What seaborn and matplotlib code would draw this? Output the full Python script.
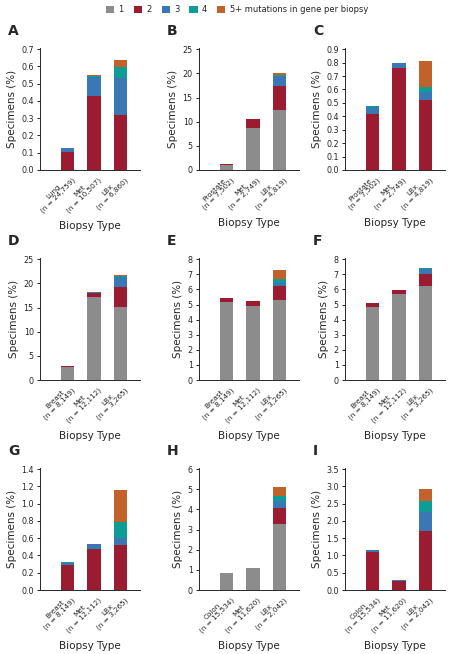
import matplotlib
matplotlib.use("Agg")
import matplotlib.pyplot as plt
import seaborn as sns
import numpy as np
import pandas as pd
from matplotlib.patches import Patch

sns.set_style("ticks")
plt.rcParams['font.family'] = ['DejaVu Sans']

series_names = ["1", "2", "3", "4", "5+ mutations in gene per biopsy"]
colors = ["#8c8c8c", "#9b1b30", "#3a78b5", "#0e9c94", "#c0622a"]

panel_letters = ["A", "B", "C", "D", "E", "F", "G", "H", "I"]
cats_A = ["Lung\n(n = 24,759)", "Met\n(n = 10,507)", "LBx\n(n = 6,860)"]
cats_BC = ["Prostate\n(n = 7,502)", "Met\n(n = 2,749)", "LBx\n(n = 4,819)"]
cats_DEFG = ["Breast\n(n = 8,149)", "Met\n(n = 12,112)", "LBx\n(n = 3,265)"]
cats_HI = ["Colon\n(n = 15,534)", "Met\n(n = 11,620)", "LBx\n(n = 2,042)"]

# values per panel: rows = categories, cols = segments 1..5+
vals_A = [[0, 0.105, 0.02, 0.005, 0], [0, 0.43, 0.11, 0.005, 0.005], [0, 0.32, 0.215, 0.06, 0.045]]
vals_B = [[1.0, 0.15, 0, 0, 0], [8.6, 1.9, 0.1, 0, 0], [12.4, 5.0, 2.1, 0.2, 0.3]]
vals_C = [[0, 0.42, 0.05, 0.01, 0], [0, 0.76, 0.04, 0, 0], [0, 0.52, 0.06, 0.04, 0.19]]
vals_D = [[2.6, 0.3, 0, 0, 0], [17.1, 1.0, 0.1, 0, 0], [15.2, 4.1, 2.1, 0.2, 0.2]]
vals_E = [[5.15, 0.25, 0, 0, 0], [4.9, 0.3, 0.05, 0, 0], [5.3, 0.9, 0.25, 0.25, 0.6]]
vals_F = [[4.85, 0.25, 0, 0, 0], [5.7, 0.28, 0, 0, 0], [6.25, 0.8, 0.3, 0.05, 0.05]]
vals_G = [[0, 0.29, 0.02, 0.01, 0], [0, 0.47, 0.06, 0, 0], [0, 0.52, 0.08, 0.19, 0.37]]
vals_H = [[0.85, 0, 0, 0, 0], [1.08, 0.02, 0, 0, 0], [3.3, 0.75, 0.35, 0.25, 0.45]]
vals_I = [[0, 1.1, 0.06, 0, 0], [0, 0.27, 0.02, 0, 0], [0, 1.7, 0.55, 0.33, 0.35]]

panels = [
    (cats_A, vals_A, 0.7, 0.1, "{:.1f}"),
    (cats_BC, vals_B, 25, 5, "{:.0f}"),
    (cats_BC, vals_C, 0.9, 0.1, "{:.1f}"),
    (cats_DEFG, vals_D, 25, 5, "{:.0f}"),
    (cats_DEFG, vals_E, 8, 1, "{:.0f}"),
    (cats_DEFG, vals_F, 8, 1, "{:.0f}"),
    (cats_DEFG, vals_G, 1.4, 0.2, "{:.1f}"),
    (cats_HI, vals_H, 6, 1, "{:.0f}"),
    (cats_HI, vals_I, 3.5, 0.5, "{:.1f}"),
]

W, H = 474, 654
fig = plt.figure(figsize=(W / 100, H / 100), dpi=100)
col_x = [40, 199, 345]
row_y = [48, 258, 468]
aw, ah = 100, 122

for idx, (cats, vals, ymax, step, fmt) in enumerate(panels):
    r, c = divmod(idx, 3)
    x0, y0 = col_x[c], row_y[r]
    ax = fig.add_axes([x0 / W, 1 - (y0 + ah) / H, aw / W, ah / H])
    arr = np.array(vals)
    cum = np.cumsum(arr, axis=1)
    for k in range(4, -1, -1):
        df = pd.DataFrame({"cat": cats, "val": cum[:, k]})
        sns.barplot(data=df, x="cat", y="val", color=colors[k], saturation=1,
                    width=0.5, ax=ax, linewidth=0)
    ax.set_xlim(-1.05, 2.75)
    ax.set_ylim(0, ymax * 1.01)
    ticks = np.arange(0, ymax + step / 2, step)
    ax.set_yticks(ticks)
    ax.set_yticklabels([fmt.format(t) for t in ticks], fontsize=5.8)
    ax.set_xticks(range(3))
    ax.set_xticklabels(cats, rotation=45, ha="right", rotation_mode="anchor",
                       fontsize=5.2, multialignment="center", linespacing=1.0)
    ax.tick_params(axis="x", length=0, pad=2)
    ax.tick_params(axis="y", length=2.5, width=0.7, pad=2)
    ax.set_ylabel("Specimens (%)", fontsize=7.5, labelpad=3)
    ax.set_xlabel("Biopsy Type", fontsize=7.5, labelpad=5)
    sns.despine(ax=ax)
    ax.spines["bottom"].set_bounds(-1.05, 2.75)
    for s in ["left", "bottom"]:
        ax.spines[s].set_linewidth(0.7)
    fig.text((x0 - 32) / W, 1 - (y0 - 17) / H, panel_letters[idx],
             fontsize=10, fontweight="bold", va="center")

handles = [Patch(facecolor=c_, edgecolor="none") for c_ in colors]
fig.legend(handles, series_names, loc="center", bbox_to_anchor=(0.5, 1 - 10 / H),
           ncol=5, frameon=False, fontsize=6, handlelength=1.0, handleheight=1.0,
           columnspacing=1.2, handletextpad=0.5)

fig.savefig("out.png", dpi=100)
